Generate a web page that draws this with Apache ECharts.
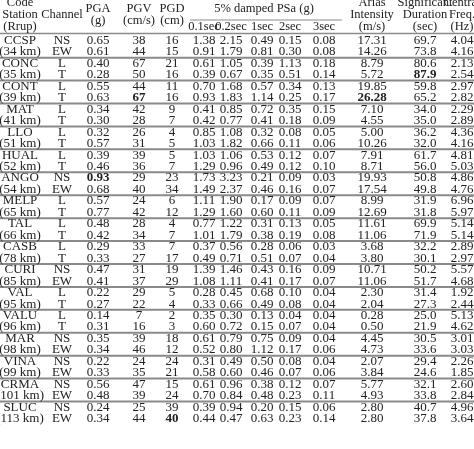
<!DOCTYPE html>
<html><head><meta charset="utf-8">
<script src="https://cdn.jsdelivr.net/npm/echarts@6/dist/echarts.min.js"></script>
<style>html,body{margin:0;padding:0;background:#fff}#c{width:474px;height:449px}</style>
</head><body><div id="c"></div>
<script>
const stations=["CCSP","CONC","CONT","MAT","LLO","HUAL","ANGO","MELP","TAL","CASB","CURI","VAL","VALU","MAR","VINA","CRMA","SLUC"];
const distances=["(34 km)","(35 km)","(39 km)","(41 km)","(51 km)","(52 km)","(54 km)","(65 km)","(66 km)","(78 km)","(85 km)","(95 km)","(96 km)","(98 km)","(99 km)","(101 km)","(113 km)"];
const channels=[["NS","EW"],["L","T"],["L","T"],["L","T"],["L","T"],["L","T"],["NS","EW"],["L","T"],["L","T"],["L","T"],["NS","EW"],["L","T"],["L","T"],["NS","EW"],["NS","EW"],["NS","EW"],["NS","EW"]];
const pga=["0.65","0.61","0.40","0.28","0.55","0.63","0.34","0.30","0.32","0.57","0.39","0.46","0.93","0.68","0.57","0.77","0.48","0.42","0.29","0.33","0.47","0.41","0.22","0.27","0.14","0.31","0.35","0.34","0.22","0.33","0.56","0.48","0.24","0.34"];
const pgv=["38","44","67","50","44","67","42","28","26","31","39","36","29","40","24","42","28","34","33","27","31","37","29","22","7","16","39","46","24","35","47","39","25","44"];
const pgd=["16","15","21","16","11","16","9","7","4","5","5","7","23","34","6","12","4","7","7","17","19","29","5","4","2","3","18","12","24","21","15","24","39","40"];
const psa01=["1.38","0.91","0.61","0.39","0.70","0.93","0.41","0.42","0.85","1.03","1.03","1.29","1.73","1.49","1.11","1.29","0.77","1.01","0.37","0.49","1.39","1.08","0.28","0.33","0.35","0.60","0.61","0.52","0.31","0.58","0.61","0.70","0.39","0.44"];
const psa02=["2.15","1.79","1.05","0.67","1.68","1.83","0.85","0.77","1.08","1.82","1.06","0.96","3.23","2.37","1.90","1.60","1.22","1.79","0.56","0.71","1.46","1.11","0.45","0.66","0.30","0.72","0.79","0.80","0.49","0.60","0.96","0.84","0.94","0.47"];
const psa1=["0.49","0.81","0.39","0.35","0.57","1.14","0.72","0.41","0.32","0.66","0.53","0.49","0.21","0.46","0.17","0.60","0.31","0.38","0.28","0.51","0.43","0.41","0.68","0.49","0.13","0.15","0.75","1.12","0.50","0.46","0.38","0.48","0.20","0.63"];
const psa2=["0.15","0.30","1.13","0.51","0.34","0.25","0.35","0.18","0.08","0.11","0.12","0.12","0.09","0.16","0.09","0.11","0.13","0.19","0.06","0.07","0.16","0.17","0.10","0.08","0.04","0.07","0.09","0.17","0.08","0.07","0.12","0.23","0.15","0.23"];
const psa3=["0.08","0.08","0.18","0.14","0.13","0.17","0.15","0.09","0.05","0.06","0.07","0.10","0.03","0.07","0.07","0.09","0.05","0.08","0.03","0.04","0.09","0.07","0.04","0.04","0.04","0.04","0.04","0.06","0.04","0.06","0.07","0.11","0.06","0.14"];
const arias=["17.31","14.26","8.79","5.72","19.85","26.28","7.10","4.55","5.00","10.26","7.91","8.71","19.93","17.54","8.99","12.69","11.61","11.06","3.68","3.80","10.71","11.06","2.30","2.04","0.28","0.50","4.45","4.73","2.07","3.84","5.77","4.93","2.80","2.80"];
const sigDur=["69.7","73.8","80.6","87.9","59.8","65.2","34.0","35.0","36.2","32.0","61.7","56.0","50.8","49.8","31.9","31.8","69.9","71.9","32.2","30.1","50.2","51.7","31.4","27.3","25.0","21.9","30.5","33.6","29.4","24.6","32.1","33.8","40.7","37.8"];
const centFreq=["4.04","4.16","2.13","2.54","2.97","2.82","2.29","2.89","4.36","4.16","4.81","5.03","4.86","4.76","6.96","5.97","5.14","5.14","2.89","2.97","5.57","4.68","1.92","2.44","5.13","4.62","3.01","3.03","2.26","1.85","2.60","2.84","4.96","3.64"];
const boldCells=[["pga",12],["pgv",5],["pgd",33],["arias",5],["sigDur",3]];
const mainHeaders=[["Code","Station","(Rrup)"],["Channel"],["PGA","(g)"],["PGV","(cm/s)"],["PGD","(cm)"],[],[],[],[],[],["Arias","Intensity","(m/s)"],["Significant","Duration","(sec)"],["Central","Freq.","(Hz)"]];
const psaTitle="5% damped PSa (g)";
const psaSub=["0.1sec","0.2sec","1sec","2sec","3sec"];

// layout
const colX=[20,62,98,139,172,204,231,262,290,324,372,425,462];
const row0=40.5, rowH=11.46;
const cols=[null,null,pga,pgv,pgd,psa01,psa02,psa1,psa2,psa3,arias,sigDur,centFreq];
const colKeys=[null,null,"pga","pgv","pgd","psa01","psa02","psa1","psa2","psa3","arias","sigDur","centFreq"];
const texts=[];
stations.forEach((s,k)=>{
  texts.push([colX[0],row0+2*k*rowH,s,0,13]);
  texts.push([colX[0],row0+(2*k+1)*rowH,distances[k],0,13]);
  texts.push([colX[1],row0+2*k*rowH,channels[k][0],0,13]);
  texts.push([colX[1],row0+(2*k+1)*rowH,channels[k][1],0,13]);
});
for(let c=2;c<cols.length;c++){
  cols[c].forEach((v,r)=>{
    const b=boldCells.some(bc=>bc[0]===colKeys[c]&&bc[1]===r)?1:0;
    texts.push([colX[c],row0+r*rowH,v,b,13]);
  });
}
mainHeaders.forEach((h,c)=>{
  const n=h.length; const start= n===3?3:(n===2?9:15);
  h.forEach((t,i)=>texts.push([colX[c],start+i*12,t,0,12.5]));
});
texts.push([(colX[5]+colX[9])/2,9,psaTitle,0,12.5]);
psaSub.forEach((t,i)=>texts.push([colX[5+i],27,t,0,12.5]));
const lines=[[0,33.5,474,33.5,1.5],[190,20,342,20,1]];
for(let k=1;k<stations.length;k++){const y=row0+(2*k-0.5)*rowH;lines.push([0,y,474,y,2]);}

const chart=echarts.init(document.getElementById('c'));
chart.setOption({
  animation:false,
  grid:{left:0,right:0,top:0,bottom:0},
  xAxis:{type:'value',min:0,max:474,show:false},
  yAxis:{type:'value',min:0,max:449,inverse:true,show:false},
  series:[
   {type:'custom',data:lines,renderItem:(p,api)=>{
     const a=api.coord([api.value(0),api.value(1)]),b=api.coord([api.value(2),api.value(3)]);
     return {type:'line',shape:{x1:a[0],y1:a[1],x2:b[0],y2:b[1]},style:{stroke:'#8a8a8a',lineWidth:api.value(4)}};
   }},
   {type:'custom',data:texts,renderItem:(p,api)=>{
     const d=texts[p.dataIndex]; const a=api.coord([d[0],d[1]]);
     return {type:'text',x:a[0],y:a[1],style:{text:d[2],fill:'#222',font:(d[3]?'bold ':'')+d[4]+'px "Liberation Serif"',align:'center',verticalAlign:'middle'}};
   }}
  ]
});
</script></body></html>
